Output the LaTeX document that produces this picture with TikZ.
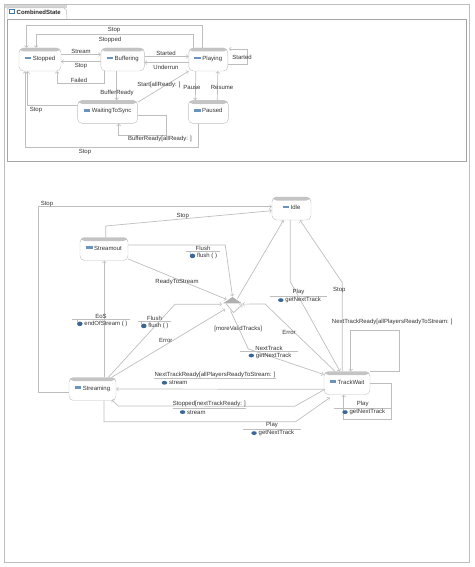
\documentclass[tikz,border=0pt]{standalone}
\usepackage{fontspec}
\setmainfont{Liberation Sans}
\usetikzlibrary{positioning, shapes.geometric}
\definecolor{iconblue}{RGB}{70,120,175}
\definecolor{linegray}{RGB}{190,190,190}
\definecolor{bandgray}{RGB}{196,196,196}
\definecolor{framegray}{RGB}{165,165,165}
\newcommand{\stateicon}{\textcolor{iconblue!80}{\rule[1.2pt]{6.5pt}{2.6pt}}\hspace{1.5pt}}
\tikzset{
  statebox/.style={draw=linegray, rounded corners=4.5pt, font=\fontsize{6}{7}\selectfont, text=black!80,
    minimum height=23pt, inner xsep=0pt, inner ysep=1pt, text height=11.5pt, text depth=9.5pt,
    path picture={\fill[bandgray] (path picture bounding box.north west) rectangle ([yshift=-3.5pt]path picture bounding box.north east);}},
  flow/.style={draw=linegray, line width=0.7pt, -to},
  lbl/.style={font=\fontsize{6}{7}\selectfont, text=black!80, inner sep=0pt},
  evt/.style={lbl, inner xsep=0pt, inner ysep=1pt},
  actball/.style={ellipse, fill=iconblue!85!black, inner sep=0pt, minimum width=5.5pt, minimum height=3.8pt},
  actflag/.style={actball, minimum height=4.6pt, append after command={(\tikzlastnode.north west) edge [draw=iconblue!70, line width=0.5pt] ++(-0.5,-2.5)}}
}
\begin{document}
\begin{tikzpicture}[x=1pt, y=-1pt]
\useasboundingbox (0,0) rectangle (474,567);
% panels
\draw [linegray, line width=0.8pt] (4.5,4.5) rectangle (469.5,562.5);
\fill [bandgray!70] (5,5) rectangle (67,8);
\draw [linegray, line width=0.5pt, rounded corners=2pt] (7,18.5) -- (7,8) -- (66,8) -- (67,17) -- (67,18.5);
\draw [framegray, line width=0.9pt] (7.5,19) rectangle (466,161);
\node (tabicon) [draw=iconblue, fill=white, line width=0.6pt, inner sep=0pt, minimum width=5pt, minimum height=3.5pt] at (12,11.5) {};
\node (tabtitle) [font=\fontsize{6}{7}\selectfont\bfseries, text=black!85, inner sep=0pt, anchor=west] at (16.5,12.5) {CombinedState};
% upper states
\node (stopped) [statebox, minimum width=42pt] at (40,59.5) {\stateicon Stopped};
\node (buffering) [statebox, minimum width=43.5pt, right=39.5pt of stopped] {\stateicon Buffering};
\node (playing) [statebox, minimum width=39pt, right=44pt of buffering] {\stateicon Playing};
\node (paused) [statebox, minimum width=40pt, below=29pt of playing] {\stateicon Paused};
\node (waiting) [statebox, minimum width=60pt, below=29pt of buffering, xshift=-15pt] {\stateicon WaitingToSync};
% upper transitions
\draw [flow] ([xshift=-5.5pt]playing.north) -- ++(0,-22) -| ([xshift=-13.5pt]stopped.north) node (stopA) [lbl] at (114,30) {Stop};
\draw [flow] ([xshift=-14.5pt]playing.north) -- ++(0,-13.5) -| ([xshift=-4pt]stopped.north) node (stoppedA) [lbl] at (110,39.7) {Stopped};
\draw [flow] ([yshift=5pt]stopped.east) -- ([yshift=5pt]buffering.west) node (streamA) [lbl] at (81,51) {Stream};
\draw [flow] ([yshift=-2pt]buffering.west) -- ([yshift=-2pt]stopped.east) node (stopB) [lbl] at (81,65.7) {Stop};
\draw [flow] ([xshift=-18pt]buffering.south) -- ++(0,12) -| ([xshift=17pt]stopped.south) node (failedA) [lbl] at (79,80.7) {Failed};
\draw [flow] ([yshift=3pt]buffering.east) -- ([yshift=3pt]playing.west) node (startedA) [lbl] at (166,53) {Started};
\draw [flow] ([yshift=-3pt]playing.west) -- ([yshift=-3pt]buffering.east) node (underrunA) [lbl] at (166,67) {Underrun};
\draw [flow] ([yshift=-4.5pt]playing.east) -- ++(19.5,0) |- ([xshift=1pt,yshift=10.5pt]playing.east) node (startedB) [lbl] at (242,57) {Started};
\draw [flow] ([xshift=-6pt]buffering.south) -- ([xshift=9pt]waiting.north) node (bufferA) [lbl] at (117,93) {BufferReady};
\draw [flow] ([yshift=-2pt]waiting.north east) -- (playing.south west) node (startA) [lbl] at (159,84.7) {Start[allReady: ]};
\draw [flow] ([xshift=-12.5pt]playing.south) -- ([xshift=-13pt]paused.north) node (pauseA) [lbl] at (192,87) {Pause};
\draw [flow] ([xshift=9pt]paused.north) -- ([xshift=9.5pt]playing.south) node (resumeA) [lbl] at (222,87) {Resume};
\draw [flow] ([yshift=6.3pt]waiting.west) -| ([xshift=-12.3pt]stopped.south) node (stopC) [lbl] at (36,109.7) {Stop};
\draw [flow] ([xshift=-10pt]paused.south) -- ++(0,24) -| ([xshift=-15pt]stopped.south) node (stopD) [lbl] at (85,152) {Stop};
\draw [flow] ([yshift=-3.7pt]waiting.east) -- ++(28.7,0) -- ++(0,19.3) -| ([xshift=11pt]waiting.south) node (bufferB) [lbl] at (160,138.7) {BufferReady[allReady: ]};
% lower states
\node (idle) [statebox, minimum width=39pt] at (291.5,208.5) {\stateicon Idle};
\node (streamout) [statebox, minimum width=48pt] at (104,249) {\stateicon Streamout};
\node (streaming) [statebox, minimum width=47pt] at (92.5,389) {\stateicon Streaming};
\node (trackwait) [statebox, minimum width=46pt] at (347,383) {\stateicon TrackWait};
\node (junction) [isosceles triangle, isosceles triangle stretches, shape border rotate=90, fill=bandgray!90!black, inner sep=0pt, minimum width=19pt, minimum height=6.5pt] at (232.5,300.5) {};
% lower transitions
\draw [flow] ([yshift=-3.7pt]streaming.west) -- ++(-30,0) |- ([yshift=1.8pt]idle.west) node (stopE) [lbl] at (47,204) {Stop};
\draw [flow] ([xshift=1.7pt]streamout.north) -- ++(0,-11.3) -- ([yshift=-2.2pt]idle.west) node (stopF) [lbl] at (182.7,215.7) {Stop};
\draw [flow] ([yshift=4pt]streamout.east) -- ++(97,0) -- (junction.north);
\draw [flow] ([yshift=-10pt]streamout.east) -- ([shift={(-5.8,-4.2)}]junction.south) node (readyA) [lbl] at (177,282) {ReadyToStream};
\draw [flow] ([xshift=11.8pt]streaming.north) -- ([xshift=0.3pt]streamout.south);
\draw [flow] ([xshift=15.8pt]streaming.north) -- (175,304.3) -- ([shift={(-10.5,0.5)}]junction.south);
\draw [flow] ([xshift=19.2pt]streaming.north) -- ([shift={(-7.5,5.5)}]junction.south) node (errorA) [lbl] at (165.7,340.7) {Error};
\draw [flow] ([shift={(5,2)}]junction.north) -- ([xshift=-8pt]idle.south);
\draw [flow] ([xshift=-1.2pt]idle.south) -- ++(0,61.5) -- ([xshift=-7pt]trackwait.north);
\draw [flow] ([xshift=-4.7pt]trackwait.north) -- ++(0,-88.7) -- ([xshift=8.5pt]idle.south) node (stopG) [lbl] at (339.3,290) {Stop};
\draw [flow] ([xshift=-12pt]trackwait.north) -- (265,304) -- ([shift={(9.8,0.5)}]junction.south) node (errorB) [lbl] at (289,332.3) {Error};
\draw [flow] ([shift={(-6.5,0)}]junction.south) -- ++(7.5,9) -- ([shift={(9.8,1)}]junction.south) node (moreA) [lbl] at (238.3,329) {[moreValidTracks]};
\draw [flow] ([shift={(-2,7)}]junction.south) -- ++(17.8,38.3) -- ([yshift=8.5pt]trackwait.west);
\draw [flow] (trackwait.north east) -- ++(29.3,0) -- ++(0,-40.7) -| ([xshift=3.7pt]trackwait.north) node (readyB) [lbl] at (392.3,322.3) {NextTrackReady[allPlayersReadyToStream: ]};
\draw [flow] ([yshift=-6.3pt]trackwait.west) -- (streaming.east);
\draw [flow] ([yshift=-6.3pt,xshift=1pt]trackwait.west) -- ++(-30,17) -- (118.3,406) -- ([xshift=-4.5pt,yshift=1pt]streaming.south east);
\draw [flow] ([xshift=11.5pt]streaming.south) -- ++(0,21) -- (295.7,421.7) -- ([xshift=6pt,yshift=-3pt]trackwait.south west);
\draw [flow] ([yshift=-0.3pt]trackwait.east) -- ++(21,0) -- ++(0,35.7) -| ([xshift=-3.3pt]trackwait.south);
% labels with actions
\foreach \nm/\cx/\cy/\wid/\ev/\actname/\ax/\ico in {
  flushA/203/248/34/Flush/{flush ( )}/6.7/actflag,
  eosA/101/316/58/EoS/{endOfStream ( )}/8/actflag,
  flushB/154.5/318/33/Flush/{flush ( )}/6/actflag,
  playA/298.5/292/57/Play/getNextTrack/11/actball,
  nexttrackA/269/348/57/NextTrack/getNextTrack/11/actball,
  readyC/215/374.7/118/{NextTrackReady[allPlayersReadyToStream: ]}/stream/10/actball,
  stoppedB/209.3/404/70/{Stopped[nextTrackReady: ]}/stream/10/actball,
  playB/272/425/57.5/Play/getNextTrack/11/actball,
  playC/362.7/404/57/Play/getNextTrack/11/actball}
{
  \node (\nm) [evt, minimum width=\wid pt] at (\cx,\cy) {\ev};
  \draw [linegray, line width=0.6pt] (\nm.south west) -- (\nm.south east);
  \node (\nm ball) [\ico, below right=2pt and \ax pt of \nm.south west, anchor=north] {};
  \node (\nm act) [lbl, right=1.5pt of \nm ball] {\actname};
}
\end{tikzpicture}
\end{document}
